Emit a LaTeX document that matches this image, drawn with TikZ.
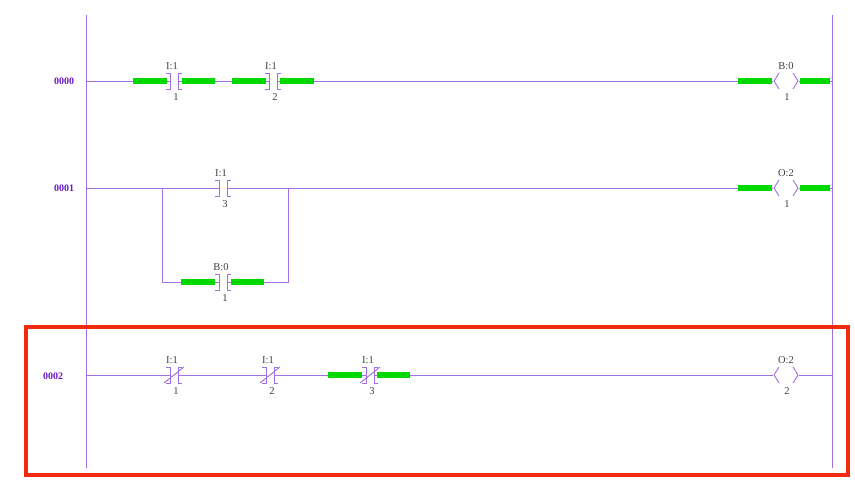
\documentclass[tikz,border=0pt]{standalone}
\usepackage{fontspec}
\setmainfont{Liberation Serif}
\begin{document}
\begin{tikzpicture}[x=1pt,y=-1pt,
  wire/.style={draw=lad,line width=0.9pt},
  ener/.style={fill=green!85!black,draw=none},
  lbl/.style={font=\fontsize{10.5}{12}\selectfont,text=black!75,inner sep=0},
  rung/.style={font=\fontsize{10}{12}\selectfont\bfseries,text=rungc,inner sep=0},
  pics/contact/.style n args={2}{code={
    \fill[white] (-4,-9) rectangle (4,9);
    \draw[wire] (-8,-8)--(-4,-8)--(-4,8)--(-8,8);
    \draw[wire] (8,-8)--(4,-8)--(4,8)--(8,8);
    \node[lbl] at (-2,-15) {#1};
    \node[lbl] at (2,16) {#2};}},
  pics/nccontact/.style n args={2}{code={
    \fill[white] (-4,-9) rectangle (4,9);
    \draw[wire] (-8,-8)--(-4,-8)--(-4,8)--(-8,8);
    \draw[wire] (8,-8)--(4,-8)--(4,8)--(8,8);
    \draw[wire] (-10,8)--(10,-8);
    \node[lbl] at (-2,-15) {#1};
    \node[lbl] at (2,16) {#2};}},
  pics/coil/.style n args={2}{code={
    \fill[white] (-13,-9) rectangle (13,9);
    \draw[wire] (-7,-8)--(-12,0)--(-7,8);
    \draw[wire] (7,-8)--(12,0)--(7,8);
    \node[lbl] at (0,-15) {#1};
    \node[lbl] at (1,16) {#2};}}]
\definecolor{lad}{HTML}{A070E0}
\definecolor{rungc}{HTML}{6A1BC8}
\definecolor{boxred}{HTML}{F42A10}
\useasboundingbox (0,0) rectangle (855,497);
% rails
\coordinate (lt) at (86,15); \coordinate (lb) at (86,468);
\coordinate (rt) at (832,15); \coordinate (rb) at (832,468);
\draw[wire] (lt)--(lb); \draw[wire] (rt)--(rb);
% rung labels
\node[rung] (r0) at (64,81) {0000};
\node[rung] (r1) at (64,188) {0001};
\node[rung] (r2) at (53,376) {0002};
% rung lines
\coordinate (a0) at (86,81); \coordinate (b0) at (832,81);
\coordinate (a1) at (86,188); \coordinate (b1) at (832,188);
\coordinate (a2) at (86,375); \coordinate (b2) at (832,375);
\draw[wire] (a0)--(b0); \draw[wire] (a1)--(b1); \draw[wire] (a2)--(b2);
% branch
\coordinate (bl) at (162,188); \coordinate (br) at (288,188);
\coordinate (bl2) at (162,282); \coordinate (br2) at (288,282);
\draw[wire] (bl)--(bl2)--(br2)--(br);
% green energized segments
\fill[ener] (133,78) rectangle (167,84); \fill[ener] (182,78) rectangle (215,84);
\fill[ener] (232,78) rectangle (266,84); \fill[ener] (280,78) rectangle (314,84);
\fill[ener] (738,78) rectangle (772,84); \fill[ener] (800,78) rectangle (830,84);
\fill[ener] (738,185) rectangle (772,191); \fill[ener] (800,185) rectangle (830,191);
\fill[ener] (181,279) rectangle (215,285); \fill[ener] (231,279) rectangle (264,285);
\fill[ener] (328,372) rectangle (362,378); \fill[ener] (377,372) rectangle (410,378);
% elements
\pic at (174,81) {contact={I:1}{1}};
\pic at (273,81) {contact={I:1}{2}};
\pic at (786,81) {coil={B:0}{1}};
\pic at (223,188) {contact={I:1}{3}};
\pic at (223,282) {contact={B:0}{1}};
\pic at (786,188) {coil={O:2}{1}};
\pic at (174,375) {nccontact={I:1}{1}};
\pic at (270,375) {nccontact={I:1}{2}};
\pic at (370,375) {nccontact={I:1}{3}};
\pic at (786,375) {coil={O:2}{2}};
% highlight box
\draw[boxred,line width=3.5pt] (26,327) rectangle (848,475);
\end{tikzpicture}
\end{document}
